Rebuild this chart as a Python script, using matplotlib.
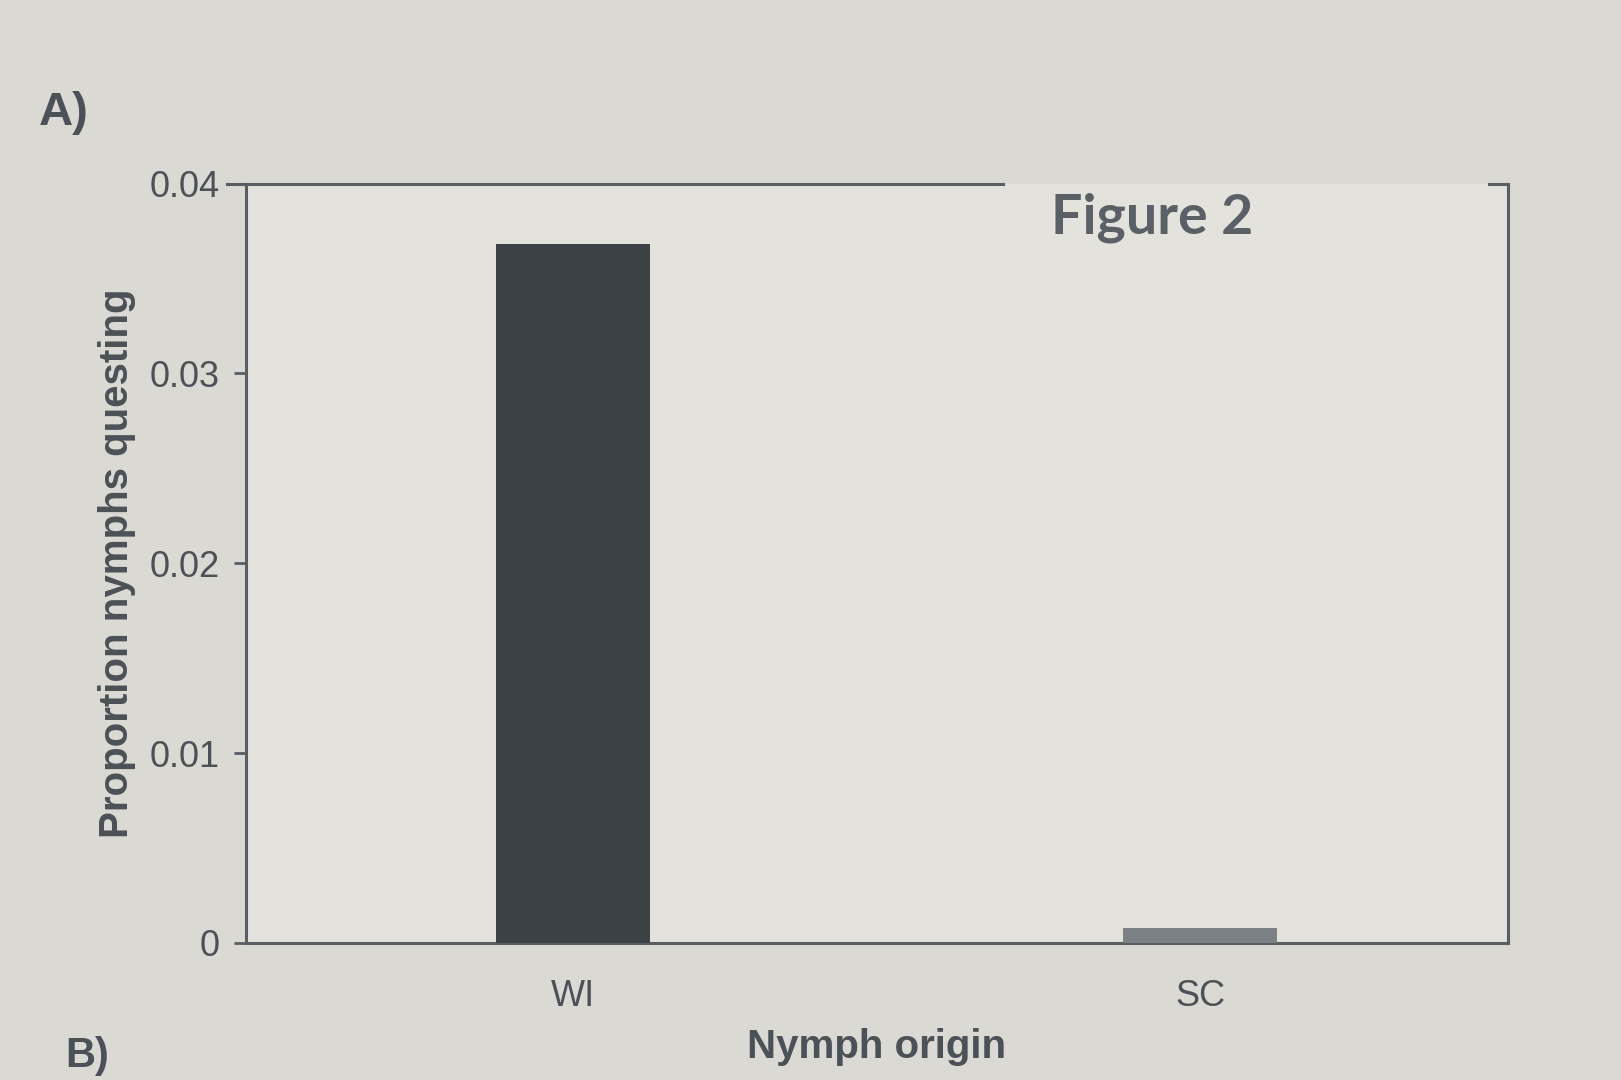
import numpy as np
import matplotlib.pyplot as plt

plt.rcParams['font.family'] = ['Liberation Sans', 'DejaVu Sans']

origins = ['WI', 'SC']
prop_questing = [0.0368, 0.0008]
bar_colors = ['#3c4145', '#7b8185']
yticks = [0, 0.01, 0.02, 0.03, 0.04]
ytick_labels = ['0', '0.01', '0.02', '0.03', '0.04']

ink = '#4b5156'
line_c = '#585e63'

fig = plt.figure(figsize=(16.21, 10.8), dpi=100)
fig.patch.set_facecolor('#dbd9d3')
ax = fig.add_axes([0.152, 0.127, 0.778, 0.703])
ax.set_facecolor('#e3e2dd')

x = np.arange(len(origins))
ax.bar(x, prop_questing, width=0.245, color=bar_colors, zorder=3)

ax.set_xlim(-0.52, 1.49)
ax.set_ylim(0, 0.04)
ax.set_yticks(yticks)
ax.set_yticklabels(ytick_labels)
ax.set_xticks(x)
ax.set_xticklabels(origins)

ax.tick_params(axis='y', direction='out', length=9, width=2, color=line_c,
               labelsize=26, labelcolor=ink, pad=10)
ax.tick_params(axis='x', length=0, labelsize=26, labelcolor=ink, pad=26)

for side in ['left', 'right', 'bottom']:
    ax.spines[side].set_color(line_c)
    ax.spines[side].set_linewidth(2.2)
ax.spines['top'].set_visible(False)

# top frame line is broken where the "Figure 2" caption sits
ax.plot([-0.015, 0.6], [1, 1], transform=ax.transAxes, color=line_c, lw=2.2, clip_on=False)
ax.plot([0.985, 1.0], [1, 1], transform=ax.transAxes, color=line_c, lw=2.2, clip_on=False)

ax.set_xlabel('Nymph origin', fontsize=29, fontweight='bold', color=ink, labelpad=10)
ax.set_ylabel('Proportion nymphs questing', fontsize=29, fontweight='bold', color=ink, labelpad=10)

fig.text(0.024, 0.895, 'A)', fontsize=34, fontweight='bold', color=ink, va='center')
fig.text(0.04, 0.004, 'B)', fontsize=30, fontweight='bold', color=ink, va='bottom')
fig.text(0.711, 0.798, 'Figure 2', fontsize=40, fontweight='bold', color='#5a6065',
         va='center', ha='center', family=['Lato', 'DejaVu Sans'])

plt.savefig('out.png', dpi=100, facecolor=fig.get_facecolor())
